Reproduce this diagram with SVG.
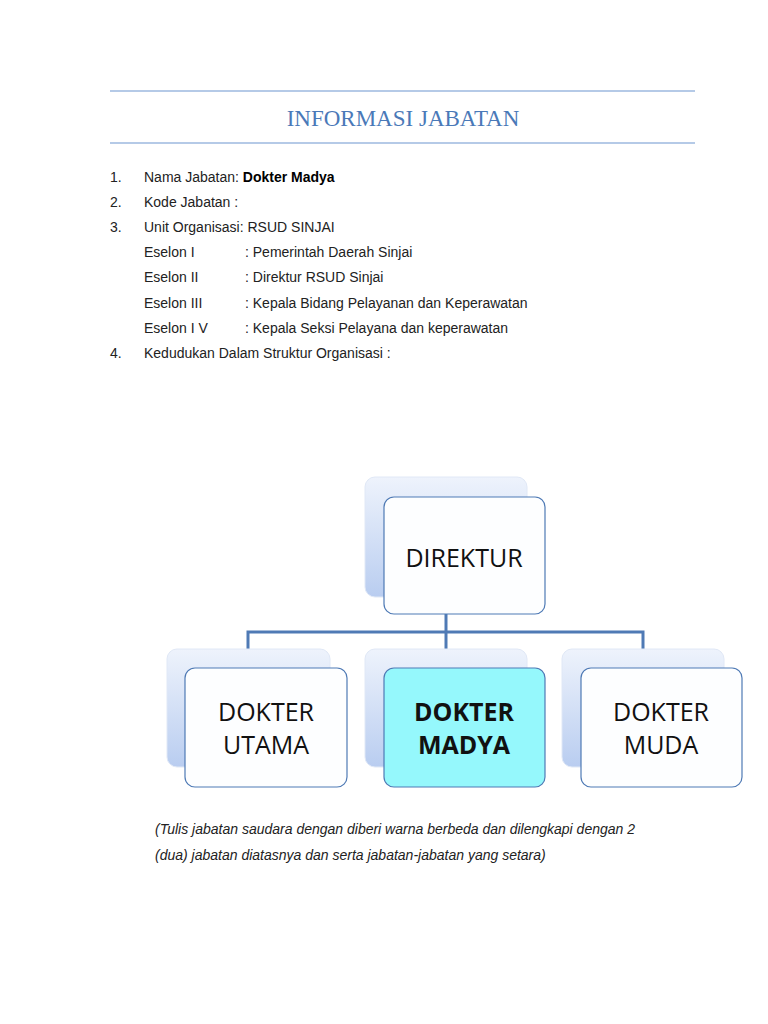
<svg xmlns="http://www.w3.org/2000/svg" width="768" height="1024" viewBox="0 0 768 1024">
<defs>
<linearGradient id="bg" x1="0" y1="0" x2="0" y2="1"><stop offset="0" stop-color="#eef3fc"/><stop offset="1" stop-color="#b9cdf0"/></linearGradient>
<linearGradient id="bgh" x1="0" y1="0" x2="1" y2="0"><stop offset="0" stop-color="#b9cdf0"/><stop offset="0.3" stop-color="#dfe8f8" stop-opacity="0.6"/><stop offset="1" stop-color="#eef3fc" stop-opacity="0"/></linearGradient>
</defs>
<style>
.t{font-family:"Liberation Sans",Arial,sans-serif;font-size:14px;fill:#222}
.back{fill:url(#bg);stroke:#e0e8f6;stroke-width:1}
.front{fill:#fdfeff;stroke:#4f7ab5;stroke-width:1.2}
.hl{fill:#95f8fc;stroke:#4f7ab5;stroke-width:1.2}
.n{font-family:"Open Sans","Liberation Sans",sans-serif;font-size:25px;fill:#111;text-anchor:middle}
.c{stroke:#4f7ab5;stroke-width:3;fill:none}
</style>
<rect width="768" height="1024" fill="#fff"/>
<line x1="110" y1="91" x2="695" y2="91" stroke="#6d95cf" stroke-width="1.2"/>
<line x1="110" y1="143" x2="695" y2="143" stroke="#6d95cf" stroke-width="1.2"/>
<text x="403" y="126" text-anchor="middle" font-family="'Liberation Serif',serif" font-size="23" fill="#4a79b8">INFORMASI  JABATAN</text>
<text class="t" x="110" y="182">1.</text><text class="t" x="144" y="182">Nama Jabatan: <tspan font-weight="bold" fill="#000">Dokter Madya</tspan></text>
<text class="t" x="110" y="207">2.</text><text class="t" x="144" y="207">Kode Jabatan  :</text>
<text class="t" x="110" y="232">3.</text><text class="t" x="144" y="232">Unit Organisasi: RSUD SINJAI</text>
<text class="t" x="144" y="257">Eselon I</text><text class="t" x="245" y="257">: Pemerintah Daerah Sinjai</text>
<text class="t" x="144" y="282">Eselon II</text><text class="t" x="245" y="282">: Direktur RSUD Sinjai</text>
<text class="t" x="144" y="308">Eselon III</text><text class="t" x="245" y="308">: Kepala Bidang Pelayanan dan Keperawatan</text>
<text class="t" x="144" y="333">Eselon I V</text><text class="t" x="245" y="333">: Kepala Seksi Pelayana dan keperawatan</text>
<text class="t" x="110" y="358">4.</text><text class="t" x="144" y="358">Kedudukan Dalam Struktur Organisasi :</text>
<g id="connectors">
<polyline class="c" points="446,614 446,632"/>
<polyline class="c" points="248,649 248,632 643,632 643,649"/>
<line class="c" x1="446" y1="632" x2="446" y2="649"/>
</g>
<g id="direktur">
<rect class="back" x="365" y="477" width="162" height="120" rx="10"/>
<rect class="front" x="384" y="497" width="161" height="117" rx="10"/>
<text class="n" x="464" y="567" font-size="30">DIREKTUR</text>
</g>
<g id="utama">
<rect class="back" x="167" y="649" width="163" height="118" rx="10"/>
<rect class="front" x="185" y="668" width="162" height="119" rx="10"/>
<text class="n" x="266" y="721">DOKTER</text><text class="n" x="266" y="754">UTAMA</text>
</g>
<g id="madya">
<rect class="back" x="365" y="649" width="162" height="118" rx="10"/>
<rect class="hl" x="384" y="668" width="161" height="119" rx="10"/>
<text class="n" x="464" y="721" font-weight="bold">DOKTER</text><text class="n" x="464" y="754" font-weight="bold">MADYA</text>
</g>
<g id="muda">
<rect class="back" x="562" y="649" width="162" height="118" rx="10"/>
<rect class="front" x="581" y="668" width="161" height="119" rx="10"/>
<text class="n" x="661" y="721">DOKTER</text><text class="n" x="661" y="754">MUDA</text>
</g>
<text class="t" font-style="italic" x="155" y="834">(<tspan>Tulis jabatan saudara dengan diberi warna berbeda dan dilengkapi dengan 2</tspan></text>
<text class="t" font-style="italic" x="155" y="860">(dua) jabatan diatasnya dan serta jabatan-jabatan yang setara)</text>
</svg>
